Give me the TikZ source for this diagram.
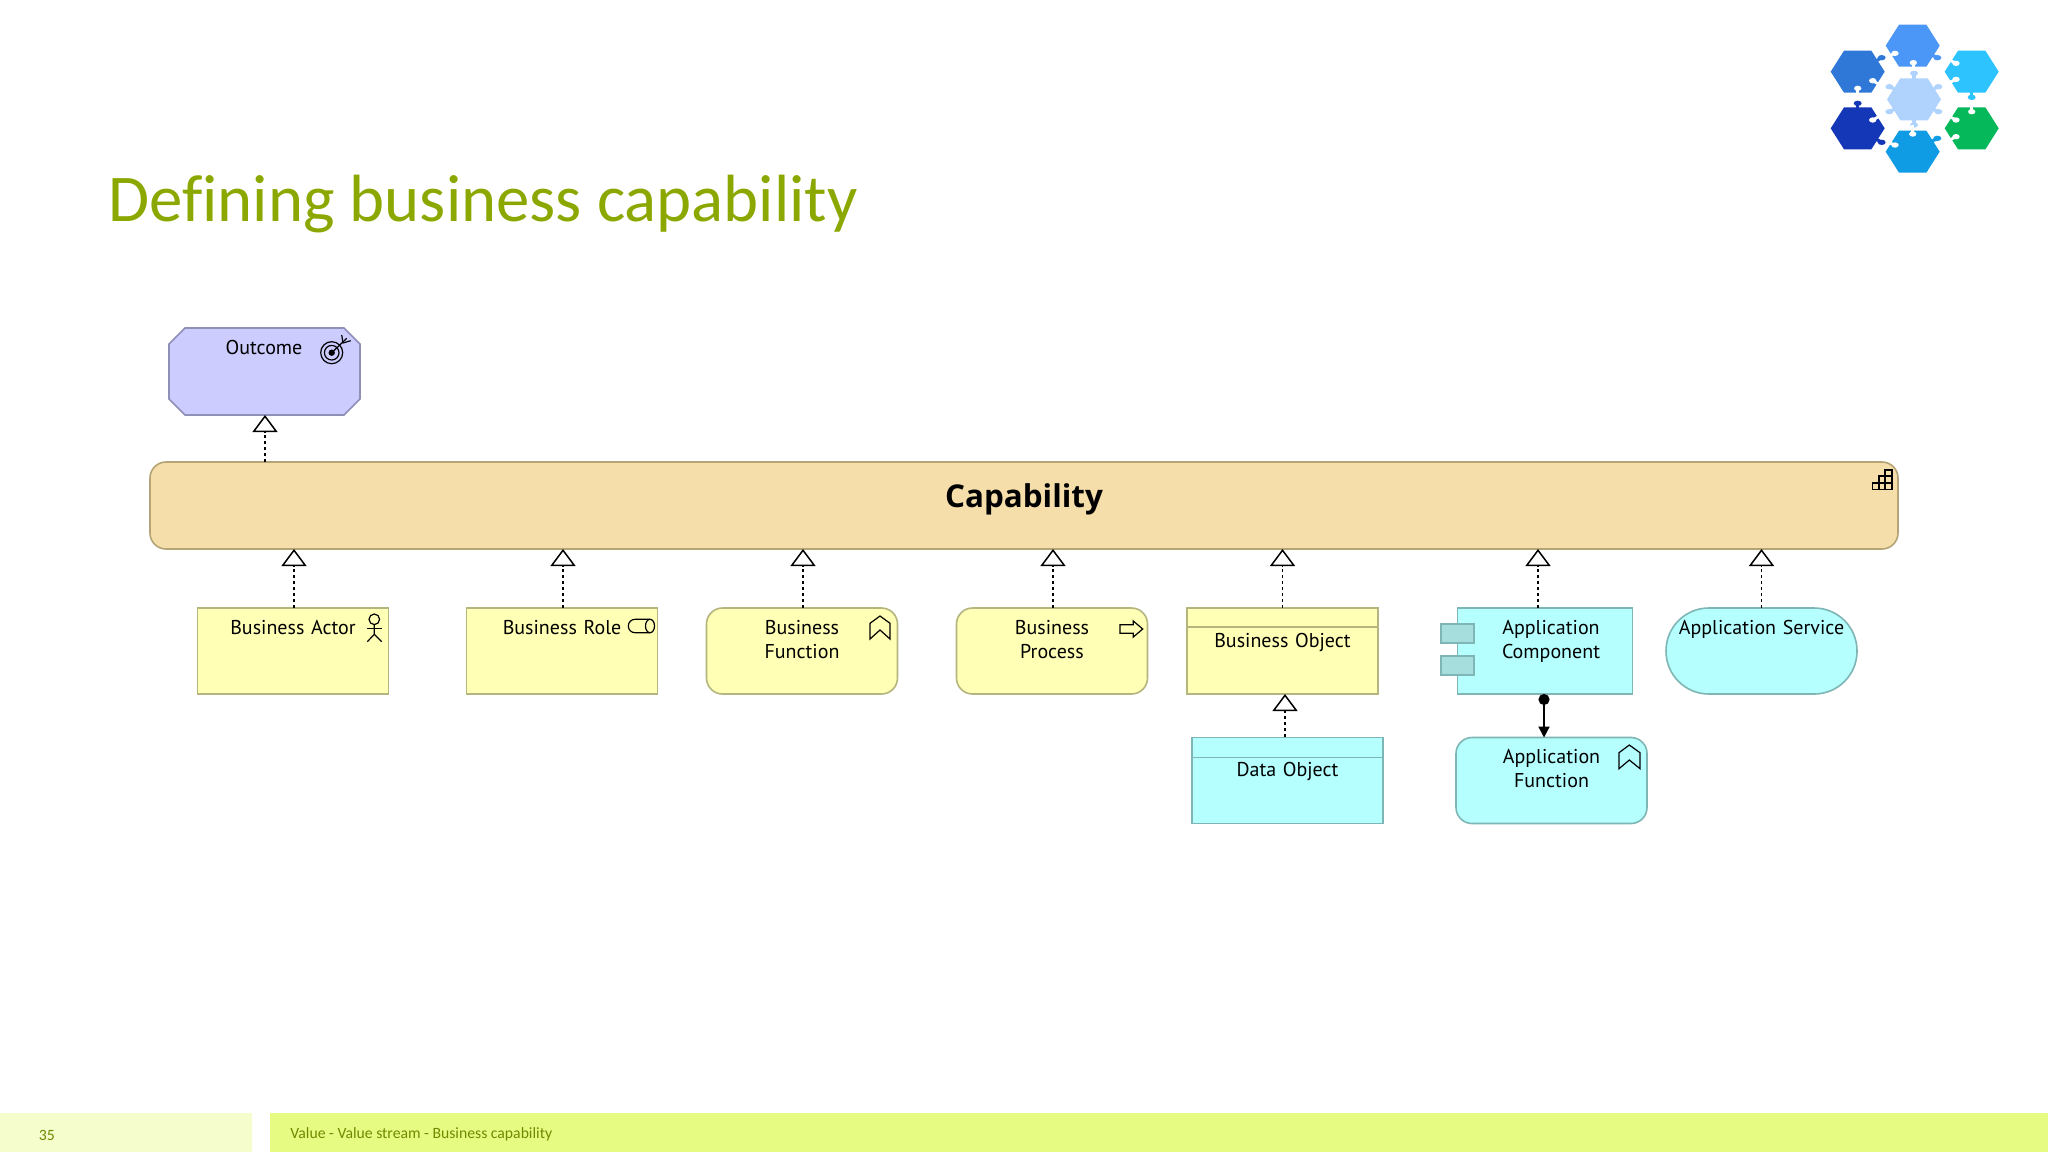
\documentclass[tikz,border=0pt]{standalone}
\usepackage{fontspec}
\setmainfont{PT Sans}
\newfontfamily\titlefont[Ligatures=NoCommon]{Carlito}
\newfontfamily\capfont{Open Sans}
\usetikzlibrary{arrows.meta,calc}
\definecolor{bizfill}{HTML}{FFFFB5}
\definecolor{bizline}{HTML}{B5B57E}
\definecolor{appfill}{HTML}{B5FFFF}
\definecolor{appline}{HTML}{7FB5B5}
\definecolor{tabfill}{HTML}{A6DEDE}
\definecolor{outfill}{HTML}{CCCCFF}
\definecolor{outline}{HTML}{8F8FB8}
\definecolor{capfill}{HTML}{F5DEAA}
\definecolor{capline}{HTML}{B5A476}
\definecolor{titlecol}{HTML}{8BA800}
\definecolor{foota}{HTML}{F4FDCB}
\definecolor{footb}{HTML}{E6FB82}
\definecolor{foottext}{HTML}{6F8A00}
\tikzset{
  elem/.style={rectangle,inner sep=0pt,outer sep=0pt,line width=0.8pt,align=center,
    text width=95.5pt,text height=13pt,text depth=30pt,
    font=\fontsize{10}{12}\selectfont},
  bizsq/.style={elem,draw=bizline,fill=bizfill},
  bizrd/.style={bizsq,rounded corners=8pt},
  appsq/.style={elem,draw=appline,fill=appfill},
  apprd/.style={appsq,rounded corners=8pt},
  lowtext/.style={text height=19.5pt,text depth=23.5pt},
  realize/.style={dash pattern=on 1.5pt off 1.5pt,line width=0.75pt,
    -{Triangle[open,fill=white,length=8.5pt,width=12.5pt,line width=0.75pt]}},
  assign/.style={line width=1pt,{Circle[length=5.5pt]}-{Triangle[length=5.5pt,width=5.5pt]}},
  icon/.style={line width=0.6pt,black,line join=miter},
  footlabel/.style={inner sep=0pt,text=foottext,font=\titlefont\fontsize{7.85}{10}\selectfont},
}
% logo helpers, in the coordinates of a 3x crop
\newcommand{\hexat}[3]{\fill[#3] (#1-81,#2) -- (#1-41,#2-63) -- (#1+41,#2-63) -- (#1+81,#2) -- (#1+41,#2+63) -- (#1-41,#2+63) -- cycle;}
\newcommand{\knobat}[5]{\draw[line width=1.6pt,#5] (#3,#4) -- ($(#3,#4)!4pt!(#1,#2)$); \fill[#5] (#3,#4) ellipse (12 and 8);}
\newcommand{\notchat}[4]{\draw[line width=1.4pt,white] (#3,#4) -- ($(#3,#4)!-4.5pt!(#1,#2)$); \fill[white] (#3,#4) ellipse (11 and 8);}
\begin{document}
\begin{tikzpicture}[x=0.5pt,y=-0.5pt]
\useasboundingbox (0,0) rectangle (2048,1152);
\fill[white] (0,0) rectangle (2048,1152);
% logo
\begin{scope}[shift={(1800,10)},x=0.16667pt,y=-0.16667pt]
\definecolor{ha}{HTML}{4A97F7}\definecolor{hb}{HTML}{2F78D8}\definecolor{hc}{HTML}{2CC3FF}
\definecolor{hd}{HTML}{AFD3FD}\definecolor{he}{HTML}{1437B8}\definecolor{hf}{HTML}{05B85A}\definecolor{hg}{HTML}{109BE5}
\hexat{338}{107}{ha}\hexat{173}{185}{hb}\hexat{515}{185}{hc}\hexat{342}{268}{hd}
\hexat{173}{355}{he}\hexat{515}{355}{hf}\hexat{338}{425}{hg}
\notchat{338}{107}{285}{130}\notchat{338}{107}{340}{158}\knobat{338}{107}{412}{143}{ha}
\notchat{173}{185}{173}{235}\notchat{173}{185}{218}{212}\knobat{173}{185}{245}{143}{hb}
\notchat{515}{185}{468}{160}\notchat{515}{185}{468}{208}\knobat{515}{185}{515}{262}{hc}
\knobat{342}{268}{342}{190}{hd}\knobat{342}{268}{268}{230}{hd}\knobat{342}{268}{415}{230}{hd}
\knobat{342}{268}{268}{305}{hd}\knobat{342}{268}{415}{305}{hd}\knobat{342}{268}{342}{345}{hd}
\knobat{173}{355}{173}{280}{he}\notchat{173}{355}{218}{330}\knobat{173}{355}{245}{397}{he}
\notchat{515}{355}{515}{305}\notchat{515}{355}{468}{330}\notchat{515}{355}{468}{380}
\notchat{338}{425}{338}{372}\knobat{338}{425}{412}{385}{hg}\notchat{338}{425}{285}{405}
\end{scope}
% title
\node[anchor=base west,inner sep=0pt,text=titlecol,font=\titlefont\fontsize{33.4}{38}\selectfont] (title) at (108,221) {Defining business capability};
% footer
\fill[foota] (0,1113) rectangle (252,1152);
\fill[footb] (270,1113) rectangle (2048,1152);
\node[footlabel,anchor=base west] (pagenum) at (38.5,1140) {35};
\node[footlabel,anchor=base west] (foottxt) at (290,1138) {Value - Value stream - Business capability};
% outcome
\draw[line width=0.8pt,draw=outline,fill=outfill] (185,328) -- (344,328) -- (360,344) -- (360,399) -- (344,415) -- (185,415) -- (169,399) -- (169,344) -- cycle;
\node[elem,text height=13pt,text depth=30.5pt] (oc) at (264,371.5) {Outcome};
% capability
\node[elem,draw=capline,fill=capfill,rounded corners=8pt,text width=874pt,text height=22.7pt,text depth=20.8pt,font=\capfont\bfseries\fontsize{15.7}{20}\selectfont] (cap) at (1024,505.5) {Capability};
% business layer
\node[bizsq] (ba) at (293,651) {Business Actor};
\node[bizsq] (br) at (562,651) {Business Role};
\node[bizrd] (bf) at (802,651) {Business\\Function};
\node[bizrd] (bp) at (1052,651) {Business\\Process};
\node[bizsq,lowtext] (bo) at (1282.5,651) {Business Object};
\draw[line width=0.6pt,bizline] ($(bo.north west)+(0,19)$) -- ($(bo.north east)+(0,19)$);
% application layer
\node[appsq,lowtext] (dat) at (1287.5,780.5) {Data Object};
\draw[line width=0.6pt,appline] ($(dat.north west)+(0,20)$) -- ($(dat.north east)+(0,20)$);
\node[appsq,text width=87.6pt] (ac) at (1545,651) {};
\node[elem,text width=70pt,xshift=3pt] (actext) at (1545,651) {Application\\Component};
\draw[line width=0.6pt,appline,fill=tabfill] (1441,624) rectangle (1474,643);
\draw[line width=0.6pt,appline,fill=tabfill] (1441,656) rectangle (1474,675);
\node[apprd] (af) at (1551.5,780.5) {Application\\Function};
\node[appsq,rounded corners=21.4pt] (as) at (1761.5,651) {Application Service};
% connectors
\coordinate (acup) at (1538,608);
\coordinate (acdn) at (1544,694);
\coordinate (ocx) at (265,415);
\coordinate (datup) at (1285,737);
\coordinate (baup) at ([xshift=0.5pt]ba.north);
\coordinate (brup) at ([xshift=0.5pt]br.north);
\coordinate (bfup) at ([xshift=0.5pt]bf.north);
\coordinate (bpup) at ([xshift=0.5pt]bp.north);
\draw[realize] (ocx |- cap.north) -- (ocx);
\draw[realize] (baup) -- (baup |- cap.south);
\draw[realize] (brup) -- (brup |- cap.south);
\draw[realize] (bfup) -- (bfup |- cap.south);
\draw[realize] (bpup) -- (bpup |- cap.south);
\draw[realize] (bo.north) -- (bo.north |- cap.south);
\draw[realize] (acup) -- (acup |- cap.south);
\draw[realize] (as.north) -- (as.north |- cap.south);
\draw[realize] (datup) -- (datup |- bo.south);
\draw[assign] (acdn) -- (acdn |- af.north);
% icons: target
\draw[icon] (331.7,352.7) circle (11);
\draw[icon] (331.7,352.7) circle (7.3);
\fill (331.7,352.7) circle (3.2);
\draw[icon] (331.7,352.7) -- (346.7,338.3);
\draw[icon] (341.7,335) -- (343,343) -- (350.7,340.7);
% icons: actor
\draw[icon] (374.3,619.3) circle (5.3);
\draw[icon] (374.3,624.6) -- (374.3,634.3) -- (367.3,641.7);
\draw[icon] (374.3,634.3) -- (381.7,641.7);
\draw[icon] (367.3,628.3) -- (382,628.3);
% icons: role
\draw[icon] (650,619.3) -- (635,619.3) arc[start angle=270,end angle=90,radius=6.7] -- (650,632.7);
\draw[icon] (650,626) ellipse (4.5 and 6.7);
% icons: function
\draw[icon] (870,623.3) -- (880,616) -- (890,623.3) -- (890,639) -- (880,630) -- (870,639) -- cycle;
\draw[icon] (1619,752.7) -- (1629.3,745) -- (1640,752.7) -- (1640,768.7) -- (1629.3,760) -- (1619,768.7) -- cycle;
% icons: process
\draw[icon] (1120,624.7) -- (1133.3,624.7) -- (1133.3,621) -- (1142.7,629) -- (1133.3,637) -- (1133.3,633.3) -- (1120,633.3) -- cycle;
% icons: capability
\draw[icon,line width=0.8pt] (1872.3,482.7) rectangle (1878.8,489.3);
\draw[icon,line width=0.8pt] (1878.8,482.7) rectangle (1885.2,489.3);
\draw[icon,line width=0.8pt] (1885.2,482.7) rectangle (1891.7,489.3);
\draw[icon,line width=0.8pt] (1878.8,476) rectangle (1885.2,482.7);
\draw[icon,line width=0.8pt] (1885.2,476) rectangle (1891.7,482.7);
\draw[icon,line width=0.8pt] (1885.2,470) rectangle (1891.7,476);
\end{tikzpicture}
\end{document}
